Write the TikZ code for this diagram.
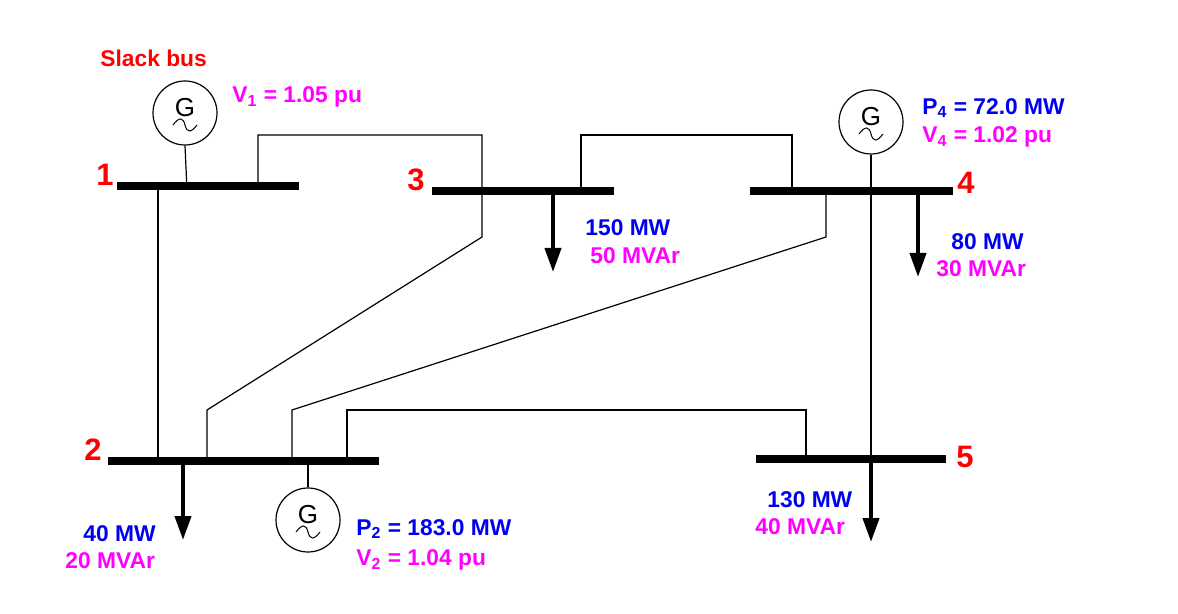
\documentclass[tikz,border=0pt]{standalone}
\usepackage{fontspec}
\setmainfont{Liberation Sans}
\usetikzlibrary{arrows.meta}
\definecolor{cred}{RGB}{255,0,0}
\definecolor{cmag}{RGB}{255,0,255}
\definecolor{cblue}{RGB}{0,0,240}
\begin{document}
\begin{tikzpicture}[x=0.5pt,y=-0.5pt,
  bus/.style={line width=4pt},
  ln/.style={line width=0.6pt},
  load/.style={line width=2pt,-{Triangle[width=8pt,length=12pt]}},
  gen/.style={circle,draw,line width=0.6pt,minimum size=32pt,inner sep=0pt},
  num/.style={text=cred,font=\bfseries\fontsize{15.5}{15.5}\selectfont,inner sep=0pt},
  lb/.style={font=\bfseries\fontsize{11.4}{12}\selectfont,inner sep=0pt,anchor=west}]
\useasboundingbox (0,0) rectangle (1178,614);
% buses
\coordinate (b1a) at (117,186); \coordinate (b1b) at (299,186);
\coordinate (b3a) at (432,191); \coordinate (b3b) at (614,191);
\coordinate (b4a) at (750,191); \coordinate (b4b) at (953,191);
\coordinate (b2a) at (108,461); \coordinate (b2b) at (379,461);
\coordinate (b5a) at (756,459); \coordinate (b5b) at (946,459);
\draw[bus] (b1a)--(b1b); \draw[bus] (b3a)--(b3b); \draw[bus] (b4a)--(b4b);
\draw[bus] (b2a)--(b2b); \draw[bus] (b5a)--(b5b);
% generators
\foreach \n/\x/\y in {g1/185/113,g4/871/122,g2/308/520}{
  \node[gen] (\n) at (\x,\y) {};
  \node[font=\fontsize{13}{13}\selectfont,inner sep=0pt] at (\x,\y-5) {G};
  \draw[line width=0.5pt] (\x-12,\y+12) .. controls (\x-6,\y+4) and (\x-2,\y+4) .. (\x,\y+12) .. controls (\x+2,\y+20) and (\x+6,\y+20) .. (\x+12,\y+12);
}
\coordinate (g1b) at (187,190);
\draw[ln] (g1.south) -- (g1b);
\coordinate (g2t) at (308,461);
\draw[ln] (g2.north) -- (g2t);
% lines
\coordinate (p12a) at (158,186); \coordinate (p12b) at (158,461);
\draw[ln] (p12a)--(p12b);
\coordinate (p13a) at (258,186); \coordinate (p13b) at (207,461);
\draw[ln] (p13a)--(258,135)--(482,135)--(482,237)--(207,410)--(p13b);
\coordinate (p34a) at (581,191); \coordinate (p34b) at (792,191);
\draw[ln] (p34a)--(581,135)--(792,135)--(p34b);
\coordinate (p42a) at (826,191); \coordinate (p42b) at (292,461);
\draw[ln] (p42a)--(826,237)--(292,410)--(p42b);
\coordinate (p25a) at (347,461); \coordinate (p25b) at (806,459);
\draw[ln] (p25a)--(347,410)--(806,410)--(p25b);
\coordinate (p45b) at (871,459);
\draw[ln] (g4.south)--(p45b);
% loads
\coordinate (l3) at (553,272); \draw[load] (553,191)--(l3);
\coordinate (l4) at (918,277); \draw[load] (918,191)--(l4);
\coordinate (l2) at (183,540); \draw[load] (183,461)--(l2);
\coordinate (l5) at (871,542); \draw[load] (871,459)--(l5);
% numbers
\node[num] (n1) at (105,175) {1};
\node[num] (n3) at (416,180) {3};
\node[num] (n4) at (966,183) {4};
\node[num] (n2) at (93,450) {2};
\node[num] (n5) at (965,457) {5};
% labels
\node[lb,text=cred] (t0) at (100,58) {Slack bus};
\node[lb,text=cmag] (t1) at (232,97) {V\textsubscript{1} = 1.05 pu};
\node[lb,text=cblue] (t2) at (922,108) {P\textsubscript{4} = 72.0 MW};
\node[lb,text=cmag] (t3) at (922,137) {V\textsubscript{4} = 1.02 pu};
\node[lb,text=cblue] (t4) at (585,228) {150 MW};
\node[lb,text=cmag] (t5) at (590,256) {50 MVAr};
\node[lb,text=cblue] (t6) at (951,242) {80 MW};
\node[lb,text=cmag] (t7) at (936,269) {30 MVAr};
\node[lb,text=cblue] (t8) at (83,534) {40 MW};
\node[lb,text=cmag] (t9) at (65,561) {20 MVAr};
\node[lb,text=cblue] (t10) at (356,529) {P\textsubscript{2} = 183.0 MW};
\node[lb,text=cmag] (t11) at (356,560) {V\textsubscript{2} = 1.04 pu};
\node[lb,text=cblue] (t12) at (767,500) {130 MW};
\node[lb,text=cmag] (t13) at (755,527) {40 MVAr};
\end{tikzpicture}
\end{document}
